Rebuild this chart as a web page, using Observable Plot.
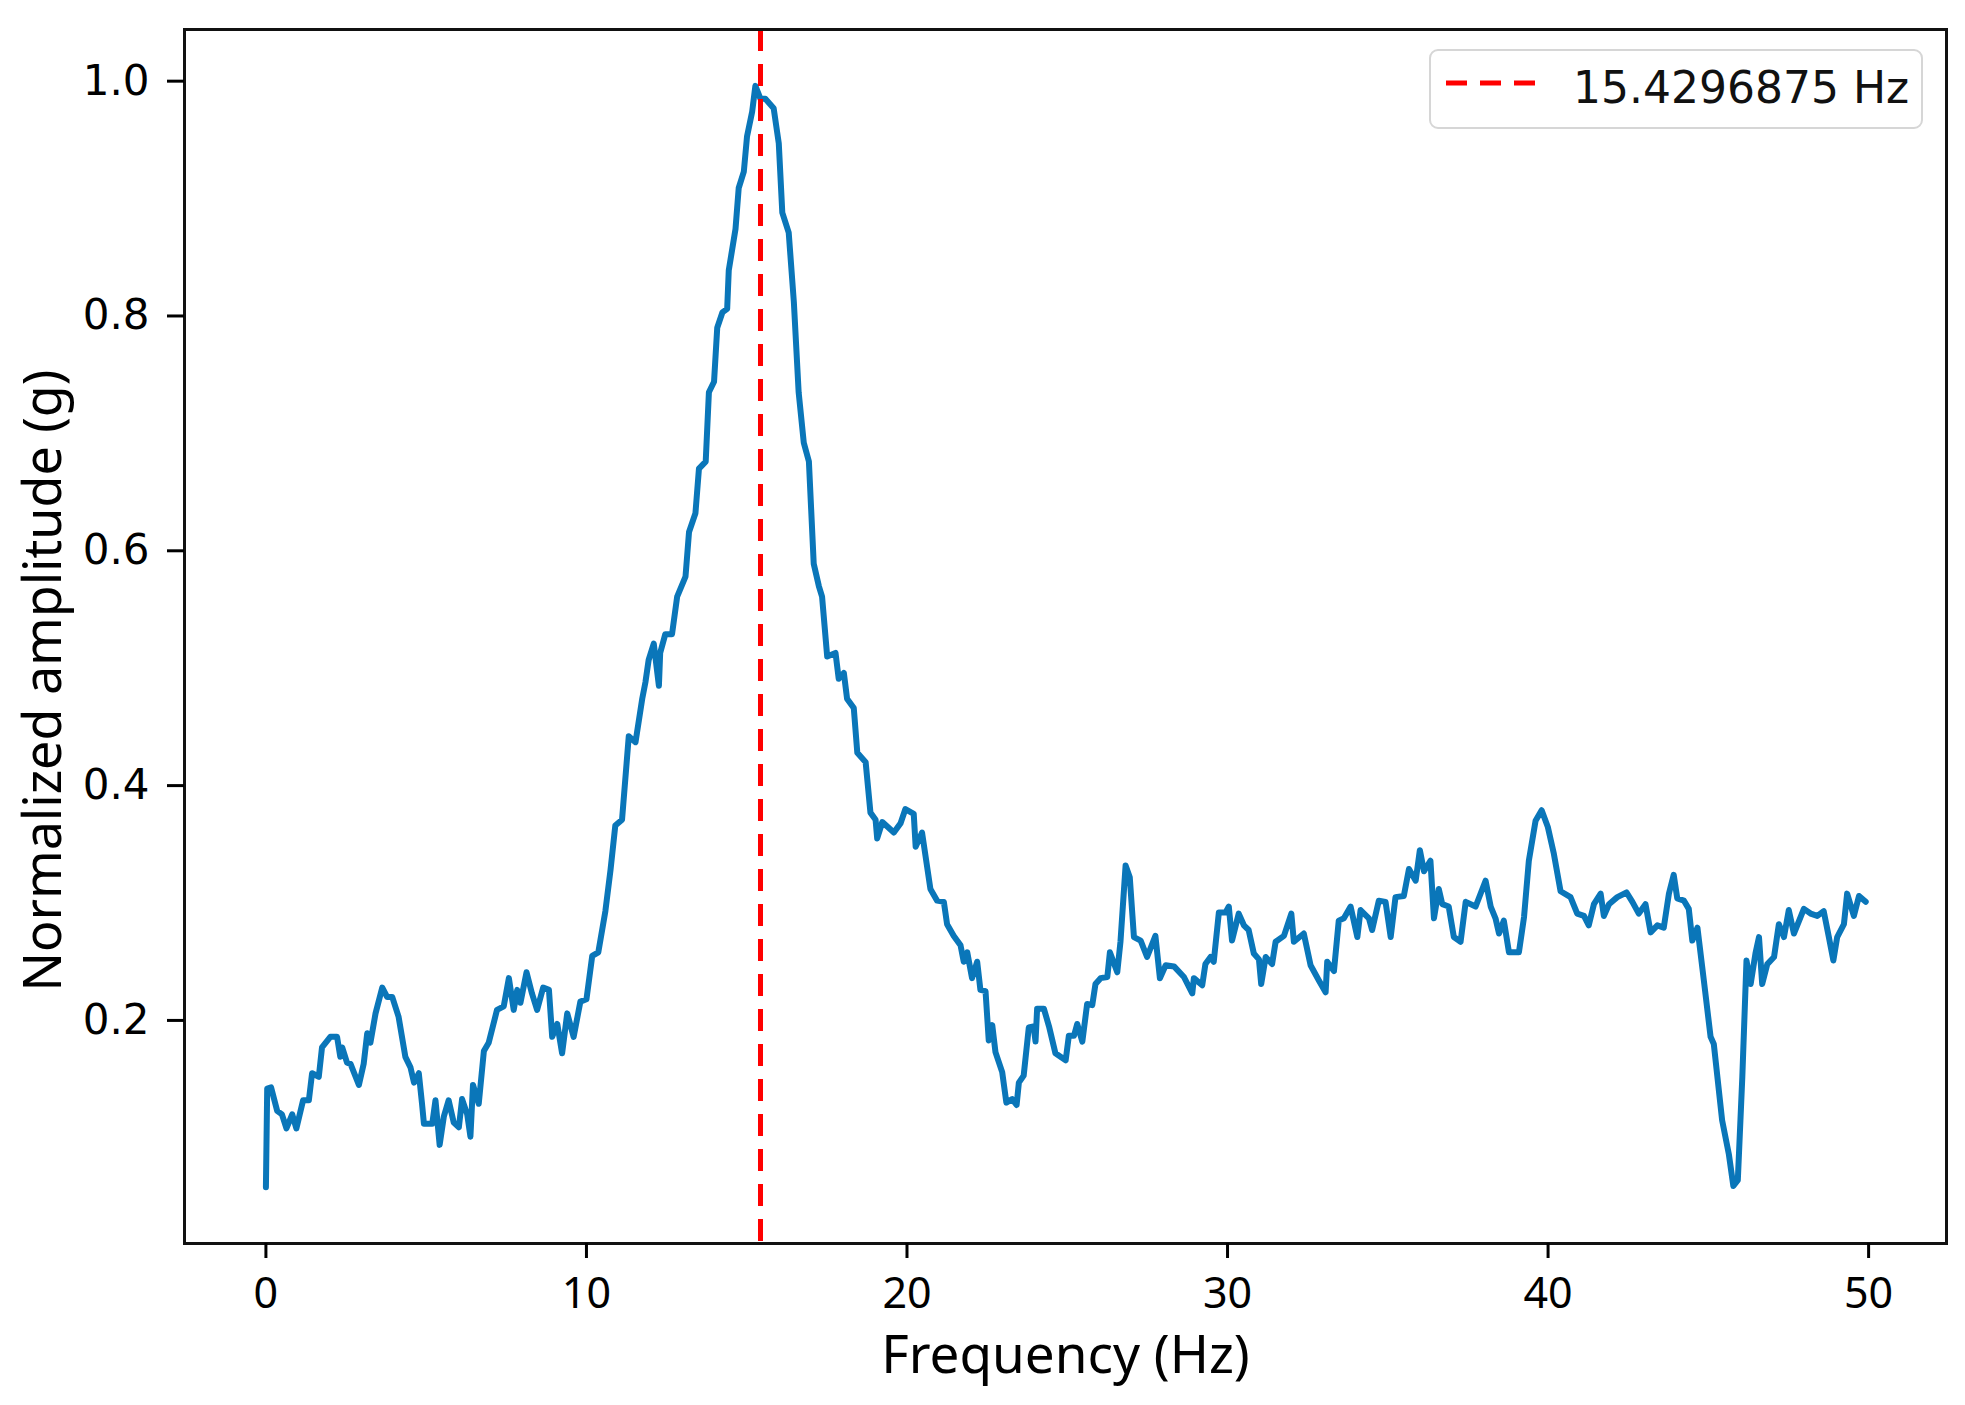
<!DOCTYPE html>
<html>
<head>
<meta charset="utf-8">
<script src="https://cdn.jsdelivr.net/npm/d3@7"></script>
<script src="https://cdn.jsdelivr.net/npm/@observablehq/plot@0.6"></script>
<style>
  html, body { margin: 0; padding: 0; background: #fff; }
  #wrap { position: relative; width: 1965px; height: 1405px; }
  #legend {
    position: absolute; left: 1429px; top: 49px; width: 490px; height: 76px;
    border: 2px solid #d6d6d6; border-radius: 9px; background: rgba(255,255,255,0.85);
  }
  #legend svg { position: absolute; left: 0; top: 0; }
</style>
</head>
<body>
<div id="wrap"></div>
<script>
const freq = [0.00,0.04,0.16,0.35,0.50,0.64,0.82,0.95,1.16,1.34,1.44,1.65,1.75,2.01,2.22,2.32,2.38,2.53,2.64,2.90,3.05,3.16,3.26,3.42,3.63,3.78,3.94,4.14,4.35,4.51,4.62,4.77,4.87,4.93,5.19,5.29,5.42,5.55,5.70,5.86,6.02,6.12,6.28,6.38,6.46,6.64,6.80,6.95,7.21,7.42,7.58,7.73,7.84,7.94,8.13,8.30,8.46,8.65,8.83,8.93,9.09,9.24,9.40,9.60,9.81,10.00,10.18,10.37,10.59,10.75,10.90,11.11,11.32,11.53,11.74,11.84,11.94,12.10,12.26,12.30,12.46,12.67,12.83,13.09,13.20,13.40,13.51,13.72,13.82,13.98,14.08,14.24,14.39,14.44,14.65,14.75,14.91,15.01,15.17,15.27,15.43,15.58,15.84,16.00,16.11,16.31,16.47,16.62,16.78,16.94,17.09,17.25,17.35,17.51,17.77,17.87,18.03,18.13,18.34,18.45,18.71,18.86,19.02,19.07,19.23,19.59,19.80,19.95,20.21,20.27,20.47,20.73,20.94,21.15,21.25,21.46,21.67,21.77,21.88,22.03,22.19,22.29,22.45,22.55,22.66,22.76,22.97,23.10,23.28,23.42,23.49,23.64,23.80,23.95,24.01,24.06,24.27,24.43,24.63,24.95,25.05,25.21,25.31,25.47,25.62,25.78,25.88,26.04,26.25,26.33,26.56,26.66,26.82,26.95,27.08,27.29,27.49,27.75,27.89,28.07,28.33,28.64,28.90,28.95,29.21,29.31,29.47,29.57,29.73,29.94,30.04,30.14,30.35,30.51,30.66,30.82,30.98,31.05,31.19,31.39,31.50,31.76,31.99,32.07,32.38,32.59,32.85,33.06,33.11,33.32,33.47,33.63,33.84,34.05,34.15,34.41,34.51,34.72,34.93,35.09,35.24,35.50,35.66,35.87,36.00,36.13,36.33,36.44,36.59,36.70,36.90,37.06,37.27,37.43,37.74,38.05,38.21,38.36,38.47,38.62,38.78,39.09,39.25,39.40,39.61,39.80,39.99,40.18,40.39,40.70,40.91,41.12,41.27,41.43,41.64,41.74,41.90,42.16,42.45,42.63,42.83,43.04,43.20,43.41,43.61,43.77,43.92,44.03,44.24,44.39,44.50,44.66,44.86,45.07,45.17,45.43,45.64,45.78,45.92,46.06,46.19,46.32,46.47,46.58,46.68,46.84,47.05,47.20,47.36,47.51,47.67,47.98,48.19,48.40,48.60,48.76,48.90,49.02,49.23,49.33,49.54,49.70,49.91];
const amp = [0.058,0.142,0.143,0.123,0.120,0.108,0.120,0.108,0.132,0.132,0.155,0.152,0.177,0.186,0.186,0.169,0.177,0.164,0.163,0.145,0.163,0.189,0.181,0.206,0.228,0.220,0.220,0.203,0.169,0.160,0.147,0.155,0.129,0.112,0.112,0.132,0.094,0.118,0.132,0.113,0.109,0.133,0.120,0.101,0.145,0.129,0.174,0.181,0.209,0.212,0.236,0.209,0.226,0.215,0.241,0.223,0.209,0.228,0.226,0.186,0.197,0.172,0.206,0.186,0.216,0.218,0.255,0.258,0.293,0.328,0.366,0.371,0.442,0.437,0.474,0.488,0.507,0.521,0.485,0.513,0.529,0.529,0.561,0.578,0.616,0.632,0.670,0.676,0.735,0.744,0.790,0.803,0.806,0.839,0.874,0.909,0.923,0.953,0.974,0.996,0.985,0.985,0.977,0.947,0.888,0.871,0.812,0.735,0.692,0.676,0.589,0.570,0.561,0.510,0.513,0.491,0.496,0.474,0.466,0.428,0.420,0.377,0.371,0.355,0.369,0.360,0.368,0.380,0.376,0.348,0.360,0.312,0.302,0.301,0.282,0.272,0.264,0.250,0.258,0.236,0.250,0.226,0.225,0.183,0.196,0.173,0.156,0.130,0.133,0.128,0.147,0.153,0.194,0.195,0.182,0.210,0.210,0.195,0.172,0.166,0.187,0.187,0.197,0.182,0.214,0.213,0.231,0.236,0.237,0.258,0.241,0.267,0.332,0.322,0.271,0.268,0.254,0.272,0.236,0.247,0.246,0.237,0.223,0.236,0.230,0.248,0.254,0.250,0.292,0.292,0.297,0.268,0.291,0.281,0.277,0.257,0.252,0.231,0.254,0.248,0.267,0.272,0.291,0.267,0.274,0.247,0.234,0.224,0.250,0.242,0.285,0.287,0.297,0.271,0.294,0.287,0.277,0.302,0.301,0.271,0.305,0.306,0.329,0.319,0.345,0.327,0.336,0.287,0.312,0.299,0.297,0.271,0.267,0.301,0.297,0.319,0.297,0.287,0.274,0.285,0.258,0.258,0.288,0.336,0.370,0.379,0.365,0.342,0.310,0.305,0.291,0.289,0.281,0.299,0.308,0.289,0.299,0.305,0.309,0.301,0.291,0.299,0.275,0.281,0.279,0.308,0.324,0.304,0.302,0.295,0.268,0.279,0.234,0.186,0.180,0.115,0.086,0.059,0.064,0.152,0.251,0.231,0.257,0.271,0.231,0.248,0.254,0.282,0.271,0.294,0.274,0.295,0.291,0.289,0.293,0.271,0.251,0.271,0.282,0.308,0.289,0.306,0.301];
const peakFreq = 15.4296875;
const legendLabel = "15.4296875 Hz";
const xTicks = [0, 10, 20, 30, 40, 50];
const yTicks = [0.2, 0.4, 0.6, 0.8, 1.0];
const xLabel = "Frequency (Hz)";
const yLabel = "Normalized amplitude (g)";

const data = freq.map((f, i) => ({f, a: amp[i]}));

const chart = Plot.plot({
  width: 1965,
  height: 1405,
  marginLeft: 184,
  marginRight: 19,
  marginTop: 29,
  marginBottom: 162,
  style: {background: "white", color: "#000", fontFamily: "DejaVu Sans"},
  x: {domain: [-2.54, 52.43]},
  y: {domain: [0.01, 1.044]},
  marks: [
    Plot.line(data, {x: "f", y: "a", stroke: "#0a76b9", strokeWidth: 6, strokeLinejoin: "round", strokeLinecap: "round"}),
    Plot.ruleX([peakFreq], {stroke: "#ff0000", strokeWidth: 5, strokeDasharray: "22,13"}),
    Plot.frame({stroke: "#111", strokeWidth: 3}),
    Plot.axisX({ticks: xTicks, tickSize: 15, tickPadding: 19, strokeWidth: 3, fontSize: 43, fontFamily: "Noto Sans", label: null, tickFormat: d => String(d)}),
    Plot.axisY({ticks: yTicks, tickSize: 17, tickPadding: 18, strokeWidth: 3, fontSize: 42, fontFamily: "DejaVu Sans", label: null, tickFormat: d => d.toFixed(1)}),
    Plot.text([xLabel], {text: d => d, frameAnchor: "bottom", textAnchor: "middle", lineAnchor: "bottom", dy: 129, fontSize: 53, fontFamily: "Noto Sans", fill: "#000"}),
    Plot.text([yLabel], {text: d => d, frameAnchor: "left", textAnchor: "middle", lineAnchor: "bottom", rotate: -90, dx: -124, dy: 44, fontSize: 52, fontFamily: "Noto Sans", fill: "#000"})
  ]
});

const wrap = document.getElementById("wrap");
wrap.appendChild(chart);

const legend = document.createElement("div");
legend.id = "legend";
legend.innerHTML = `<svg width="490" height="76" xmlns="http://www.w3.org/2000/svg">
  <line x1="15" y1="32" x2="104" y2="32" stroke="#ff0000" stroke-width="5" stroke-dasharray="21,13"/>
  <text x="142" y="52" font-family="DejaVu Sans" font-size="44" fill="#111">${legendLabel}</text>
</svg>`;
wrap.appendChild(legend);
</script>
</body>
</html>
